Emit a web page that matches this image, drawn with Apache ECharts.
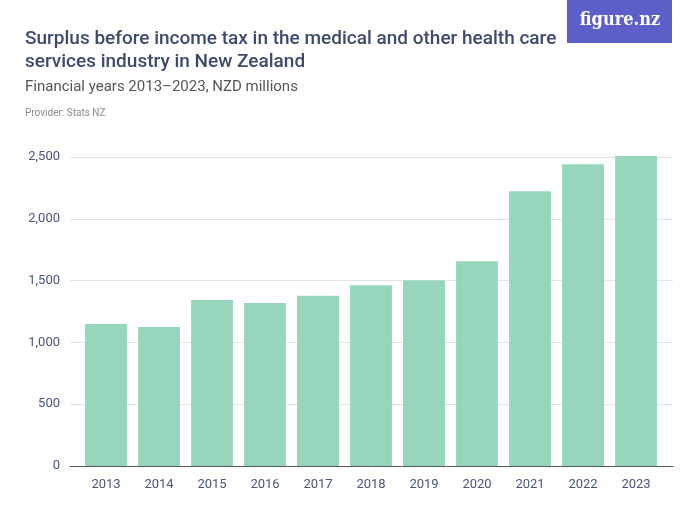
<!DOCTYPE html>
<html><head><meta charset="utf-8">
<script src="https://cdn.jsdelivr.net/npm/echarts@6/dist/echarts.min.js"></script>
<style>html,body{margin:0;padding:0;background:#fff}#c{width:700px;height:525px}</style>
</head><body><div id="c"></div>
<script>
const years = ['2013','2014','2015','2016','2017','2018','2019','2020','2021','2022','2023'];
const surplus = [1149,1125,1343,1319,1378,1462,1502,1656,2222,2441,2508];
const yTicks = [0,500,1000,1500,2000,2500];

const FONT = '"Roboto","Noto Sans",sans-serif';
const chart = echarts.init(document.getElementById('c'));
chart.setOption({
  animation:false,
  textStyle:{fontFamily:FONT},
  title:[
    {text:'Surplus before income tax in the medical and other health care\nservices industry in New Zealand', left:25, top:28, padding:0,
     textStyle:{fontFamily:FONT,fontSize:19,fontWeight:500,color:'#3d4a6b',lineHeight:23}},
    {text:'Financial years 2013–2023, NZD millions', left:25, top:80, padding:0,
     textStyle:{fontFamily:FONT,fontSize:15,fontWeight:'normal',color:'#555'}},
    {text:'Provider: Stats NZ', left:25, top:108, padding:0,
     textStyle:{fontFamily:FONT,fontSize:10,fontWeight:'normal',color:'#8a8a8a'}}
  ],
  graphic:[
    {type:'rect',shape:{x:567,y:0,width:105,height:43},style:{fill:'#5b5fc7'}},
    {type:'text',style:{x:620,y:20,text:'figure.nz',fill:'#fff',font:'bold 18px "DejaVu Serif Condensed","Liberation Serif",serif',textAlign:'center',textVerticalAlign:'middle'}}
  ],
  grid:[
    {left:70,right:27,top:157,bottom:59},
    {left:79.5,right:37.5,top:157,bottom:59}
  ],
  xAxis:[
    {type:'value',gridIndex:0,min:0,max:1,show:true,
      axisLine:{show:true,onZero:false,lineStyle:{color:'#555',width:1}},
      axisTick:{show:false},axisLabel:{show:false},splitLine:{show:false}},
    {type:'category',gridIndex:1,data:years,
      axisLine:{show:false},
      axisTick:{alignWithLabel:true,length:5,lineStyle:{color:'#555'}},
      axisLabel:{color:'#4a5578',fontSize:13,margin:12,fontFamily:FONT}}
  ],
  yAxis:[
    {type:'value',gridIndex:0,min:0,max:2500,interval:500,
      axisLine:{show:false},axisTick:{show:false},
      splitLine:{lineStyle:{color:'#e3e3e3',width:1}},
      axisLabel:{color:'#4a5578',fontSize:13,margin:10,fontFamily:FONT,
        formatter:v=>yTicks.includes(v)?v.toLocaleString('en-US'):''}},
    {type:'value',gridIndex:1,min:0,max:2500,interval:500,show:false,splitLine:{show:false}}
  ],
  series:[{type:'bar',xAxisIndex:1,yAxisIndex:1,data:surplus,clip:false,barCategoryGap:'21%',itemStyle:{color:'#98d6bb'}}]
});
</script></body></html>
